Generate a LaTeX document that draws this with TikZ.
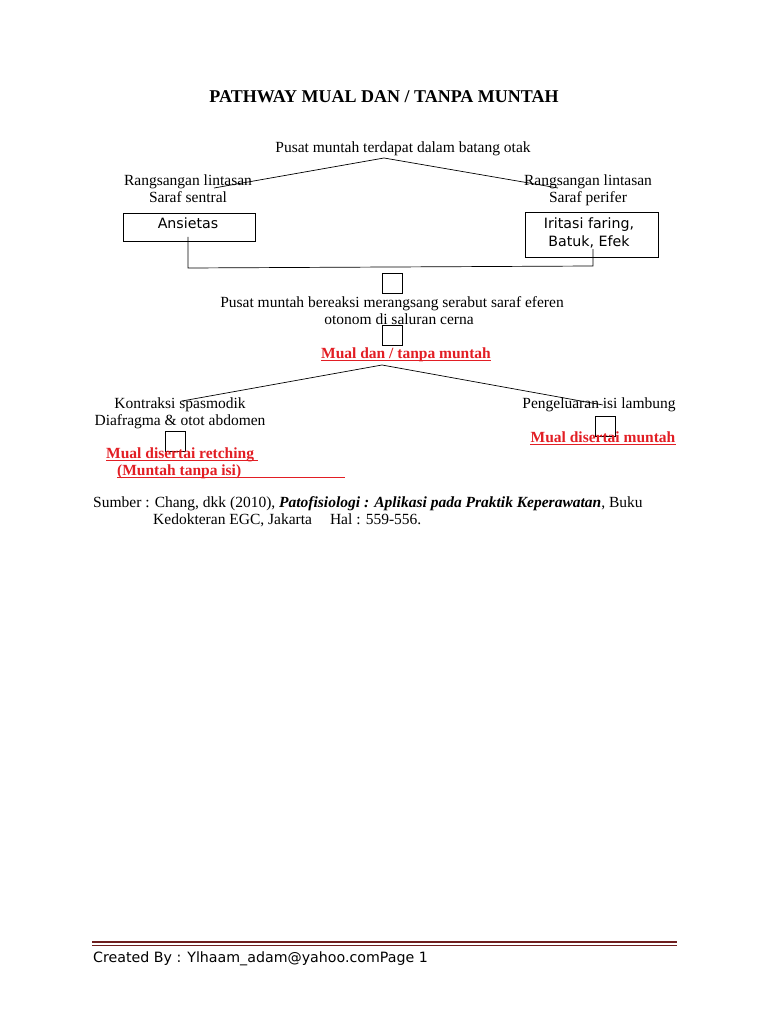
\documentclass[tikz,border=0pt]{standalone}
\usepackage{fontspec}
\usepackage{tikz}
\usetikzlibrary{positioning}
\setmainfont{Liberation Serif}
\newfontfamily\boxfont{DejaVu Sans}
\definecolor{mualred}{RGB}{226,30,36}
\definecolor{footred}{RGB}{110,30,30}

\begin{document}
\begin{tikzpicture}[x=1pt,y=-1pt,
  txt/.style={inner sep=0pt, anchor=base, font=\fontsize{15.5}{17}\selectfont, align=center},
  redtxt/.style={txt, text=mualred, font=\fontsize{15.5}{17}\selectfont\bfseries},
  boxtxt/.style={inner sep=0pt, anchor=base, font=\boxfont\fontsize{14.2}{18}\selectfont, align=center},
  box/.style={draw, line width=0.8pt, anchor=north west, inner sep=0pt},
  sq/.style={draw, line width=0.8pt, minimum size=20pt, inner sep=0pt},
  link/.style={line width=0.7pt},
  uline/.style={mualred, line width=0.8pt}]
\useasboundingbox (0,0) rectangle (768,1024);
\node [txt, font=\fontsize{18}{20}\selectfont\bfseries] (title) at (384,103) {PATHWAY MUAL DAN / TANPA MUNTAH};
\node [txt] (pusat) at (403,153) {Pusat muntah terdapat dalam batang otak};
\node [txt] (rangL) at (188,203) {Rangsangan lintasan\\Saraf sentral};
\node [txt] (rangR) at (588,203) {Rangsangan lintasan\\Saraf perifer};
\coordinate (peakA) at (384,158);
\coordinate (endAL) at (214,188);
\coordinate (endAR) at (558,188);
\draw [link] (endAL) -- (peakA) -- (endAR);

\node [box, minimum width=132pt, minimum height=28pt] (ansietas) at (123,213) {};
\node [boxtxt] (ansietasT) at (188,229) {Ansietas};
\node [box, minimum width=133pt, minimum height=45pt] (iritasi) at (525,212) {};
\node [boxtxt] (iritasiT) at (589,247) {Iritasi faring,\\Batuk, Efek};
\coordinate (barL) at (188,268);
\coordinate (barR) at (593,266);
\draw [link] ([yshift=5pt]ansietas.south -| barL) -- (barL) -- (barR) -- ++(0,-17);

\node [sq] (sq1) at (392,283) {};
\node [txt] (reaksi) at (392,324) {Pusat muntah bereaksi merangsang serabut saraf eferen\\\hspace*{14pt}otonom di saluran cerna};
\node [sq] (sq2) at (392,335) {};
\node [redtxt] (mual) at (406,358) {Mual dan / tanpa muntah};
\draw [uline] ([yshift=-2.5pt]mual.base west) -- ([yshift=-2.5pt]mual.base east);

\coordinate (peakB) at (382,365);
\coordinate (endBL) at (182,401);
\coordinate (endBR) at (603,405);
\draw [link] (endBL) -- (peakB) -- (endBR);
\node [txt] (kontraksi) at (180,425) {Kontraksi spasmodik\\Diafragma \& otot abdomen};
\node [txt] (keluar) at (599,408) {Pengeluaran isi lambung};

\node [sq] (sqL) at (175,441) {};
\node [sq] (sqR) at (605,426) {};
\node [redtxt, anchor=base west] (retching) at (106,458) {Mual disertai retching\ };
\draw [uline] ([yshift=-2.5pt]retching.base west) -- ([yshift=-2.5pt]retching.base east);
\node [redtxt, anchor=base west] (tanpaisi) at (117,475) {(Muntah tanpa isi)};
\coordinate (tanpaEnd) at (345,475);
\draw [uline] ([yshift=-2.5pt]tanpaisi.base west) -- ([yshift=-2.5pt]tanpaEnd);
\node [redtxt] (muntahR) at (603,442) {Mual disertai muntah};
\draw [uline] ([yshift=-2.5pt]muntahR.base west) -- ([yshift=-2.5pt]muntahR.base east);

\node [txt, anchor=base west, align=left] (sumber) at (93,524) {Sumber : Chang, dkk (2010), \textbf{\textit{Patofisiologi : Aplikasi pada Praktik Keperawatan}}, Buku\\\hspace*{60pt}Kedokteran EGC, Jakarta\hspace{18pt}Hal : 559-556.};

\coordinate (footL) at (92,942);
\coordinate (footR) at (677,942);
\draw [footred, line width=2.4pt] (footL) -- (footR);
\draw [footred, line width=0.6pt] ([yshift=-3pt]footL) -- ([yshift=-3pt]footR);
\node [boxtxt, anchor=base west] (footer) at (93,962) {Created By : Ylhaam\_adam@yahoo.comPage 1};
\end{tikzpicture}
\end{document}
